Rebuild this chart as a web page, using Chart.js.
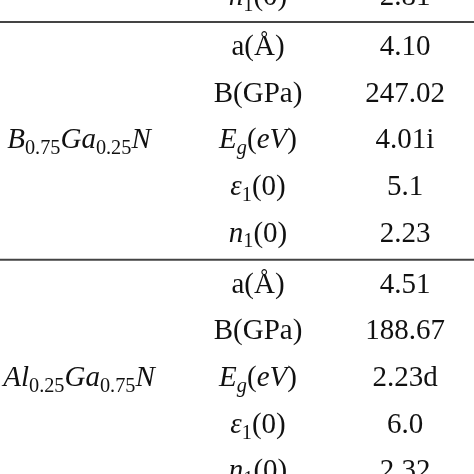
<!DOCTYPE html>
<html><head><meta charset="utf-8">
<script src="https://cdn.jsdelivr.net/npm/chart.js@4/dist/chart.umd.min.js"></script>
<style>html,body{margin:0;padding:0;background:#fff}#w{width:474px;height:474px}</style>
</head><body><div id="w"><canvas id="c"></canvas></div>
<script>
// Table content
const materials = [
  [{t:"B",i:1},{t:"0.75",s:1},{t:"Ga",i:1},{t:"0.25",s:1},{t:"N",i:1}],
  [{t:"Al",i:1},{t:"0.25",s:1},{t:"Ga",i:1},{t:"0.75",s:1},{t:"N",i:1}]
];
const properties = [
  [{t:"a(Å)"}],
  [{t:"B(GPa)"}],
  [{t:"E",i:1},{t:"g",i:1,s:1},{t:"("},{t:"eV",i:1},{t:")"}],
  [{t:"ε",i:1},{t:"1",s:1},{t:"(0)"}],
  [{t:"n",i:1},{t:"1",s:1},{t:"(0)"}]
];
const prevValue = ["2.81"];
const values1 = ["4.10","247.02","4.01i","5.1","2.23"];
const values2 = ["4.51","188.67","2.23d","6.0","2.32"];

const FS = 29, FF = '"Liberation Serif", "DejaVu Serif", serif';
function segW(ctx, s){ctx.font=(s.i?'italic ':'')+(s.s?FS*0.7:FS)+'px '+FF;return ctx.measureText(s.t).width;}
function drawRich(ctx, segs, cx, cy){
  let w=0; segs.forEach(s=>w+=segW(ctx,s));
  let x=cx-w/2;
  segs.forEach(s=>{const sw=segW(ctx,s);ctx.fillText(s.t,x,cy+(s.s?FS*0.28:0));x+=sw;});
}
const tablePlugin = {
  id:'table',
  afterDraw(chart){
    const ctx=chart.ctx, xs=chart.scales.x, ys=chart.scales.y;
    ctx.save(); ctx.fillStyle='#111'; ctx.textBaseline='middle';
    const colMat=xs.getPixelForValue(79), colProp=xs.getPixelForValue(258), colVal=xs.getPixelForValue(405);
    drawRich(ctx, properties[4], colProp, ys.getPixelForValue(-0.07));
    drawRich(ctx, [{t:prevValue[0]}], colVal, ys.getPixelForValue(-0.07));
    const blocks=[[1,values1],[6.1,values2]];
    blocks.forEach(([start,vals],b)=>{
      properties.forEach((p,k)=>{
        const y=ys.getPixelForValue(start+k);
        drawRich(ctx,p,colProp,y);
        drawRich(ctx,[{t:vals[k]}],colVal,y);
      });
      drawRich(ctx,materials[b],colMat,ys.getPixelForValue(start+2));
    });
    ctx.strokeStyle='#444'; ctx.lineWidth=2;
    [0.45,5.55].forEach(v=>{const y=ys.getPixelForValue(v);ctx.beginPath();ctx.moveTo(0,y);ctx.lineTo(chart.width,y);ctx.stroke();});
    ctx.restore();
  }
};
new Chart(document.getElementById('c'),{
  type:'scatter',
  data:{datasets:[{data:[]}]},
  options:{responsive:true,maintainAspectRatio:false,animation:false,
    layout:{padding:0},
    plugins:{legend:{display:false},tooltip:{enabled:false}},
    scales:{
      x:{type:'linear',min:0,max:474,display:false},
      y:{type:'linear',min:-0.021,max:10.15,reverse:true,display:false}
    }},
  plugins:[tablePlugin]
});
</script></body></html>
